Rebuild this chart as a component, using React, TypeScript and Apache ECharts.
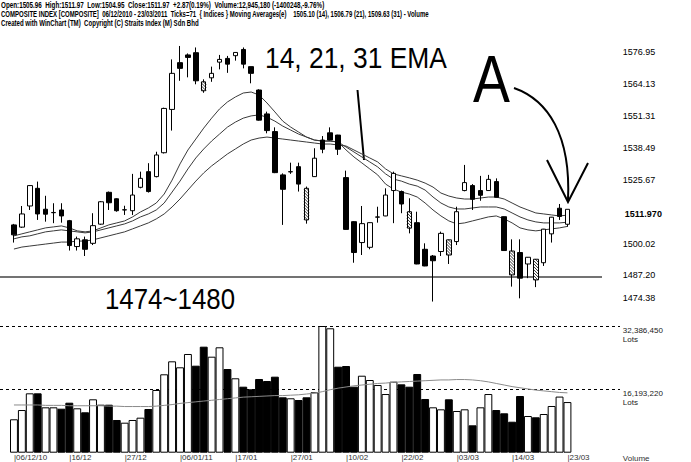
import React, { useEffect, useRef } from 'react';
import * as echarts from 'echarts';

// ---------- data ----------
const dates = ['06/12/10','08/12/10','09/12/10','10/12/10','13/12/10','14/12/10','15/12/10','16/12/10','17/12/10','20/12/10','21/12/10','22/12/10','23/12/10','24/12/10','27/12/10','28/12/10','29/12/10','30/12/10','03/01/11','04/01/11','05/01/11','06/01/11','07/01/11','10/01/11','11/01/11','12/01/11','13/01/11','14/01/11','17/01/11','18/01/11','19/01/11','21/01/11','24/01/11','25/01/11','26/01/11','27/01/11','28/01/11','31/01/11','01/02/11','07/02/11','08/02/11','09/02/11','10/02/11','11/02/11','14/02/11','15/02/11','17/02/11','18/02/11','21/02/11','22/02/11','23/02/11','24/02/11','25/02/11','28/02/11','01/03/11','02/03/11','03/03/11','04/03/11','07/03/11','08/03/11','09/03/11','10/03/11','11/03/11','14/03/11','15/03/11','16/03/11','17/03/11','18/03/11','21/03/11','22/03/11','23/03/11'];
const padCategories = ['p1','p2','p3','p4','p5','p6'];

const open = [1505.7,1504.8,1513.3,1520.4,1512.0,1510.6,1511.7,1507.4,1497.0,1499.7,
1498.3,1506.0,1518.8,1516.2,1511.7,1511.4,1520.8,1527.1,1525.1,1534.7,
1552.1,1570.9,1574.0,1574.9,1559.6,1564.8,1571.1,1572.6,1573.7,1576.2,
1569.3,1559.9,1550.3,1543.2,1525.8,1527.0,1529.1,1507.7,1525.1,1539.8,
1542.7,1541.8,1524.7,1507.0,1498.6,1496.7,1508.8,1509.3,1519.5,1519.1,
1504.4,1506.6,1495.9,1493.2,1495.0,1493.6,1499.0,1519.5,1521.5,1519.5,
1519.5,1523.1,1509.0,1485.6,1494.6,1490.0,1483.6,1490.5,1502.1,1512.4,
1505.96];
const close = [1501.7,1510.1,1521.5,1510.1,1510.0,1510.7,1509.3,1497.4,1500.1,1495.9,
1505.4,1515.0,1514.6,1511.4,1511.8,1517.7,1524.4,1519.1,1533.8,1552.5,
1566.6,1568.6,1573.0,1563.6,1563.2,1566.6,1572.2,1570.3,1575.0,1570.3,
1566.6,1547.8,1543.6,1526.7,1520.0,1527.1,1522.1,1520.4,1532.5,1536.1,
1539.8,1536.1,1503.9,1494.6,1506.2,1506.6,1508.9,1517.7,1526.4,1514.1,
1511.0,1490.0,1489.2,1491.3,1502.3,1499.7,1511.0,1522.7,1516.0,1517.6,
1524.0,1516.8,1495.4,1495.2,1484.3,1492.7,1491.9,1504.0,1508.8,1509.1,
1511.97];
const low = [1498.6,1504.5,1511.7,1507.7,1507.0,1506.4,1506.6,1495.4,1495.4,1493.2,
1497.6,1505.7,1511.7,1511.0,1509.7,1509.7,1520.4,1518.7,1524.8,1534.4,
1543.6,1563.6,1565.0,1562.2,1558.8,1563.2,1568.2,1566.8,1571.7,1568.6,
1562.6,1547.6,1542.5,1526.5,1505.7,1526.2,1519.1,1506.2,1525.0,1534.5,
1539.7,1533.8,1503.8,1490.5,1493.6,1495.9,1506.6,1509.2,1506.4,1510.4,
1502.3,1489.9,1489.1,1474.9,1493.2,1490.0,1497.6,1519.2,1511.7,1515.4,
1519.4,1516.7,1495.3,1480.9,1476.2,1484.3,1480.7,1489.2,1498.6,1507.7,
1504.95];
const high = [1506.1,1513.3,1521.7,1523.1,1517.4,1514.4,1514.4,1507.7,1501.0,1501.0,
1510.4,1515.3,1519.1,1516.4,1513.4,1526.2,1527.1,1530.5,1535.1,1552.8,
1572.2,1577.6,1574.6,1577.0,1564.2,1569.3,1574.0,1573.6,1575.0,1577.0,
1569.3,1560.2,1551.2,1544.9,1526.4,1530.7,1530.7,1521.1,1536.5,1541.4,
1544.9,1541.9,1527.5,1507.2,1513.3,1506.7,1513.0,1520.4,1527.1,1519.5,
1516.4,1511.0,1498.3,1493.6,1503.0,1499.8,1513.0,1529.8,1522.1,1525.4,
1525.8,1524.4,1509.1,1499.9,1499.9,1492.8,1492.0,1504.1,1508.9,1514.1,
1511.97];

// white candles that closed below the previous close (drawn hatched)
const hatchedIdx = [24, 37, 50, 55, 63, 66];

const ema14 = [1501.3,1502.1,1502.9,1503.7,1504.5,1504.9,1505.3,1504.5,1503.3,1502.9,
1503.3,1504.5,1505.7,1506.5,1507.3,1508.9,1510.9,1512.5,1514.5,1518.1,
1523.7,1530.2,1535.8,1540.2,1544.6,1548.6,1552.3,1555.1,1557.1,1558.7,
1559.1,1557.9,1554.7,1551.1,1547.4,1545.0,1543.0,1541.0,1539.8,1539.4,
1539.4,1539.0,1535.8,1533.0,1530.6,1528.2,1525.8,1522.1,1520.1,1518.9,
1518.1,1516.9,1514.5,1511.7,1509.3,1507.3,1506.1,1506.5,1507.3,1508.1,
1508.9,1509.3,1508.1,1506.5,1504.5,1503.7,1503.3,1503.7,1504.1,1504.5,
1505.10];
const ema21 = [1500.1,1500.9,1501.3,1502.1,1502.9,1503.3,1503.7,1503.3,1502.9,1502.5,
1502.9,1503.7,1504.5,1505.3,1506.1,1507.3,1508.9,1510.1,1511.7,1514.5,
1518.9,1523.3,1528.2,1532.6,1536.2,1539.4,1542.2,1545.0,1547.0,1548.6,
1549.5,1549.9,1549.0,1547.4,1545.4,1543.8,1542.2,1541.0,1539.8,1539.4,
1539.4,1539.0,1537.0,1535.0,1533.0,1531.0,1529.0,1526.2,1524.1,1523.3,
1522.1,1521.3,1519.7,1516.9,1514.5,1512.9,1512.1,1512.1,1512.5,1512.9,
1512.9,1512.9,1512.1,1510.5,1508.9,1507.7,1506.9,1506.5,1506.5,1506.5,
1506.79];
const ema31 = [1496.0,1496.8,1497.2,1497.6,1498.0,1498.4,1498.8,1498.8,1499.2,1499.2,
1499.7,1500.5,1501.3,1502.1,1502.9,1504.1,1505.3,1506.5,1508.1,1510.1,
1512.9,1516.1,1519.7,1523.3,1526.6,1529.4,1531.8,1534.2,1536.2,1538.2,
1539.8,1540.6,1541.0,1540.6,1540.2,1539.8,1539.4,1539.0,1538.6,1538.2,
1538.2,1537.8,1537.4,1535.8,1534.2,1532.6,1531.0,1528.2,1526.2,1525.4,
1524.6,1523.7,1522.5,1520.9,1518.5,1517.3,1516.5,1516.1,1516.1,1516.5,
1516.9,1516.9,1516.1,1514.5,1512.9,1511.7,1510.5,1510.1,1509.7,1509.3,
1509.63];

const volume = [8540000,10910000,15180000,15180000,11600000,11600000,11250000,12780000,11350000,10330000,
13650000,12270000,12270000,8360000,7670000,8360000,8950000,11170000,16030000,20040000,
23360000,21830000,25230000,22240000,27100000,24540000,26940000,21390000,19020000,16870000,
16210000,18840000,18330000,19430000,14160000,13910000,13470000,14160000,15440000,32386450,
31800000,21980000,22160000,16870000,19680000,18580000,17300000,15000000,18150000,17480000,
16870000,20120000,13730000,11600000,11090000,13650000,10660000,11090000,7000000,11600000,
15000000,10910000,10070000,7920000,14490000,9380000,9050000,9890000,11940000,14345428,
12945180];
// 1 = volume bar drawn black (down day), 0 = white
const volDown = [0,0,0,1,0,0,1,1,0,1, 0,0,1,1,0,0,0,1,0,0, 0,0,0,1,1,0,0,1,0,1,
1,1,1,1,1,0,1,1,0,0, 0,1,1,1,0,0,0,0,0,1, 1,1,1,0,0,1,0,0,1,0, 0,1,1,1,1,0,1,0,0,0, 0];
const volMA = [12200000,12200000,12200000,12200000,12100000,12100000,12100000,12000000,12000000,12000000,
12000000,12000000,11900000,11900000,11800000,11800000,11800000,11800000,11900000,12100000,
12300000,12600000,12800000,13000000,13200000,13400000,13600000,13800000,14000000,14200000,
14300000,14400000,14500000,14600000,14600000,14700000,14800000,15000000,15200000,15600000,
16100000,16500000,16800000,17100000,17300000,17500000,17700000,17800000,18000000,18100000,
18200000,18300000,18400000,18500000,18600000,18600000,18700000,18700000,18600000,18400000,
18100000,17700000,17300000,16900000,16600000,16300000,16000000,15800000,15600000,15400000,
15300000];

const priceTickValues = [1576.95, 1564.13, 1551.31, 1538.49, 1525.67, 1511.97, 1500.02, 1487.20];
const priceTickLabels = ['1576.95', '1564.13', '1551.31', '1538.49', '1525.67', '1511.970', '1500.02', '1487.20'];
const priceLowTickValues = [1474.38];
const priceLowTickLabels = ['1474.38'];
const volTickValues = [16193220, 32386450];
const volTickLabels = ['16,193,220', '32,386,450'];
const xTickDates = ['06/12/10','16/12/10','27/12/10','06/01/11','17/01/11','27/01/11','10/02/11','22/02/11','03/03/11','14/03/11','23/03/11'];
const xTickLabels = ['|06/12/10','|16/12','|27/12','|06/01/11','|17/01','|27/01','|10/02','|22/02','|03/03','|14/03','|23/03'];

const supportLevel = 1484.8;

const headerLines = [
  'Open:1505.96  High:1511.97  Low:1504.95  Close:1511.97  +2.87(0.19%)  Volume:12,945,180 (-1400248,-9.76%)',
  'COMPOSITE INDEX [COMPOSITE]  06/12/2010 - 23/03/2011  Ticks=71  { Indices } Moving Averages(e)    1505.10 (14), 1506.79 (21), 1509.63 (31) - Volume',
  'Created with WinChart (TM)  Copyright (C) Straits Index (M) Sdn Bhd',
];

const FONT = '"Liberation Sans", Arial, sans-serif';

function measure(text: string, size: number, weight = 'normal') {
  const ctx = document.createElement('canvas').getContext('2d');
  if (!ctx) return text.length * size * 0.5;
  ctx.font = `${weight} ${size}px ${FONT}`;
  return ctx.measureText(text).width;
}

function fitText(text: string, x: number, y: number, size: number, width: number, weight = 'normal') {
  const w = measure(text, size, weight);
  return {
    type: 'text',
    x,
    y,
    scaleX: width / w,
    silent: true,
    style: {
      text,
      fontSize: size,
      fontFamily: FONT,
      fontWeight: weight,
      fill: '#000',
      align: 'left',
      textAlign: 'left',
      verticalAlign: 'middle',
      textVerticalAlign: 'middle',
    },
  };
}

export default function App() {
  const ref = useRef<HTMLDivElement>(null);

  useEffect(() => {
    document.body.style.margin = '0';
    if (!ref.current) return;
    const chart = echarts.init(ref.current, undefined, { renderer: 'svg' });
    const cats = [...dates, ...padCategories];
    const PMIN = 1470.7;
    const PMAX = 1580.0;
    const VMAX = 32386450;
    const gridLeft = 10;
    const gridWidth = cats.length * 7.907;

    const labelFor = (vals: number[], labels: string[]) => (v: number) => {
      const k = vals.findIndex((t) => Math.abs(t - v) < 0.01);
      return k >= 0 ? labels[k] : '';
    };

    chart.setOption({
      animation: false,
      backgroundColor: '#fff',
      grid: [
        { left: gridLeft, top: 40, width: gridWidth, height: 272, outerBoundsMode: 'none' },
        { left: gridLeft, top: 326, width: gridWidth, height: 126.7, outerBoundsMode: 'none' },
      ],
      xAxis: [
        { type: 'category', gridIndex: 0, data: cats, show: false, boundaryGap: true },
        {
          type: 'category', gridIndex: 1, data: cats, boundaryGap: true,
          axisLine: { show: false }, axisTick: { show: false }, splitLine: { show: false },
          axisLabel: {
            interval: 0, align: 'left', margin: 1, fontSize: 8, fontFamily: FONT, color: '#333',
            formatter: (v: string) => {
              const k = xTickDates.indexOf(v);
              return k >= 0 ? xTickLabels[k] : '';
            },
          },
          name: 'Volume', nameLocation: 'end', nameGap: 4,
          nameTextStyle: { fontSize: 8, fontFamily: FONT, color: '#333', align: 'left', verticalAlign: 'top', padding: [2, 0, 0, 0] },
        },
      ],
      yAxis: [
        {
          type: 'value', gridIndex: 0, position: 'right', min: PMIN, max: PMAX, scale: true,
          axisLine: { show: false }, axisTick: { show: false }, splitLine: { show: false },
          axisLabel: {
            customValues: priceTickValues, margin: 4, fontSize: 9, fontFamily: FONT, color: '#000',
            verticalAlign: 'top',
            formatter: (v: number) => {
              const s = labelFor(priceTickValues, priceTickLabels)(v);
              return s === '1511.970' ? `{cur|${s}}` : s;
            },
            rich: { cur: { fontSize: 9, fontFamily: FONT, fontWeight: 'bold', color: '#000', padding: [0, 0, 0, 2] } },
          },
        },
        {
          type: 'value', gridIndex: 0, position: 'right', min: PMIN, max: PMAX, scale: true,
          axisLine: { show: false }, axisTick: { show: false }, splitLine: { show: false },
          axisLabel: {
            customValues: priceLowTickValues, margin: 4, fontSize: 9, fontFamily: FONT, color: '#000',
            verticalAlign: 'bottom',
            formatter: labelFor(priceLowTickValues, priceLowTickLabels),
          },
        },
        {
          type: 'value', gridIndex: 1, position: 'right', min: 0, max: VMAX,
          axisLine: { show: false }, axisTick: { show: false }, splitLine: { show: false },
          axisLabel: {
            customValues: volTickValues, margin: 4, fontSize: 8, lineHeight: 9, fontFamily: FONT, color: '#222',
            verticalAlign: 'top',
            formatter: (v: number) => `${labelFor(volTickValues, volTickLabels)(v)}\nLots`,
          },
        },
      ],
      series: [
        { type: 'line', name: 'EMA14', xAxisIndex: 0, yAxisIndex: 0, data: ema14, symbol: 'none', z: 1, lineStyle: { color: '#3a3a3a', width: 1 }, silent: true },
        { type: 'line', name: 'EMA21', xAxisIndex: 0, yAxisIndex: 0, data: ema21, symbol: 'none', z: 1, lineStyle: { color: '#3a3a3a', width: 1 }, silent: true },
        { type: 'line', name: 'EMA31', xAxisIndex: 0, yAxisIndex: 0, data: ema31, symbol: 'none', z: 1, lineStyle: { color: '#3a3a3a', width: 1 }, silent: true },
        {
          type: 'candlestick', xAxisIndex: 0, yAxisIndex: 0, z: 2, barWidth: 5,
          data: open.map((o, i) => [o, close[i], low[i], high[i]]),
          itemStyle: { color: '#fff', color0: '#000', borderColor: '#000', borderColor0: '#000', borderColorDoji: '#000', borderWidth: 1 },
        },
        {
          type: 'custom', xAxisIndex: 0, yAxisIndex: 0, z: 3, silent: true,
          data: hatchedIdx.map((i) => [i, open[i], close[i]]),
          encode: { x: 0, y: [1, 2] },
          renderItem: (params: any, api: any) => {
            const i = api.value(0);
            const a = api.value(1);
            const b = api.value(2);
            const pTop = api.coord([i, Math.max(a, b)]);
            const pBot = api.coord([i, Math.min(a, b)]);
            const w = 5;
            const left = pTop[0] - w / 2;
            const top = pTop[1];
            const bottom = pBot[1];
            const children: any[] = [];
            for (let y0 = top - w; y0 < bottom; y0 += 3) {
              const t0 = Math.max(0, top - y0);
              const t1 = Math.min(w, bottom - y0);
              if (t1 > t0) {
                children.push({
                  type: 'line',
                  shape: { x1: left + t0, y1: y0 + t0, x2: left + t1, y2: y0 + t1 },
                  style: { stroke: '#000', lineWidth: 0.8 },
                });
              }
            }
            return { type: 'group', children };
          },
        },
        {
          type: 'bar', xAxisIndex: 1, yAxisIndex: 2, barCategoryGap: '0%', z: 2,
          data: volume.map((v, i) => ({
            value: v,
            itemStyle: { color: volDown[i] ? '#000' : '#fff', borderColor: '#000', borderWidth: 1 },
          })),
        },
        { type: 'line', xAxisIndex: 1, yAxisIndex: 2, data: volMA, symbol: 'none', z: 3, lineStyle: { color: '#8a8a8a', width: 1 }, silent: true },
      ],
    });

    const yP = (v: number) => chart.convertToPixel({ yAxisIndex: 0 }, v) as unknown as number;
    const yV = (v: number) => chart.convertToPixel({ yAxisIndex: 2 }, v) as unknown as number;
    const supY = yP(supportLevel);

    const graphics: any[] = [
      fitText(headerLines[0], 1, 5, 9, 324, 'bold'),
      fitText(headerLines[1], 1, 14, 9, 429, 'bold'),
      fitText(headerLines[2], 1, 23, 9, 198, 'bold'),
      fitText('14, 21, 31 EMA', 265, 58, 29, 182),
      fitText('1474~1480', 105, 299, 29, 130),
      fitText('A', 473, 79, 66, 37),
      { type: 'line', silent: true, shape: { x1: 0, y1: supY, x2: 602, y2: supY }, style: { stroke: '#444', lineWidth: 1.5 } },
      ...volTickValues.map((v) => ({
        type: 'line', silent: true,
        shape: { x1: 0, y1: Math.round(yV(v)) + 0.5, x2: 620, y2: Math.round(yV(v)) + 0.5 },
        style: { stroke: '#000', lineWidth: 1, lineDash: [3, 3] },
      })),
      { type: 'line', silent: true, shape: { x1: 357.5, y1: 90, x2: 364, y2: 160 }, style: { stroke: '#000', lineWidth: 2 } },
      {
        type: 'bezierCurve', silent: true,
        shape: { x1: 514, y1: 88, cpx1: 548, cpy1: 100, cpx2: 571, cpy2: 135, x2: 568, y2: 200 },
        style: { stroke: '#000', lineWidth: 2, fill: 'none' },
      },
      { type: 'polyline', silent: true, shape: { points: [[547, 160], [568, 202], [588, 163]] }, style: { stroke: '#000', lineWidth: 2, fill: 'none' } },
    ];
    chart.setOption({ graphic: graphics });

    return () => chart.dispose();
  }, []);

  return <div ref={ref} style={{ width: 691, height: 462, background: '#fff' }} />;
}
